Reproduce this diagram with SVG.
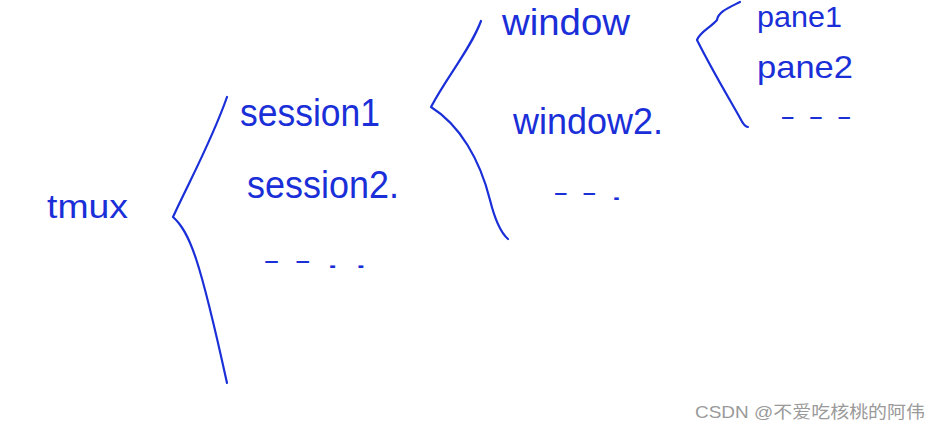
<svg xmlns="http://www.w3.org/2000/svg" width="940" height="432" viewBox="0 0 940 432">
<style>
.hw{font-family:"Liberation Sans","DejaVu Sans",sans-serif;fill:#1a2fd8;}
.br{fill:none;stroke:#1a2fd8;stroke-width:2.2;stroke-linecap:round;stroke-linejoin:round;}
.wm{font-family:"Liberation Sans","Noto Sans CJK SC",sans-serif;fill:#9a9a9a;font-size:17px;}
</style>
<rect width="940" height="432" fill="#ffffff"/>
<g id="connectors">
<path class="br" d="M227,97 C212,140 190,180 173,217 C190,232 200,260 227,383"/>
<path class="br" d="M481,21 C470,50 448,75 431,107 C460,125 480,160 490,200 C495,220 500,232 508,239"/>
<path class="br" d="M740,2 C728,8 718,12 717,20 C710,28 700,32 697,40 C712,70 730,100 740,118 C743,124 746,127 748,127"/>
</g>
<g id="tmux"><text class="hw" x="47" y="218" font-size="34" textLength="81" lengthAdjust="spacingAndGlyphs">tmux</text></g>
<g id="session1"><text class="hw" x="240" y="126" font-size="38" textLength="140" lengthAdjust="spacingAndGlyphs">session1</text></g>
<g id="session2"><text class="hw" x="247" y="198" font-size="38" textLength="152" lengthAdjust="spacingAndGlyphs">session2.</text></g>
<g id="session-more"><text class="hw" x="263" y="268" font-size="24" textLength="105" lengthAdjust="spacingAndGlyphs">- -  .  .</text></g>
<g id="window1"><text class="hw" x="502" y="35" font-size="36" textLength="128" lengthAdjust="spacingAndGlyphs">window</text></g>
<g id="window2"><text class="hw" x="513" y="134" font-size="36" textLength="150" lengthAdjust="spacingAndGlyphs">window2.</text></g>
<g id="window-more"><text class="hw" x="553" y="200" font-size="24" textLength="70" lengthAdjust="spacingAndGlyphs">- -  .</text></g>
<g id="pane1"><text class="hw" x="757" y="27" font-size="30" textLength="85" lengthAdjust="spacingAndGlyphs">pane1</text></g>
<g id="pane2"><text class="hw" x="757" y="78" font-size="32" textLength="96" lengthAdjust="spacingAndGlyphs">pane2</text></g>
<g id="pane-more"><text class="hw" x="780" y="124" font-size="24" textLength="72" lengthAdjust="spacingAndGlyphs">- -  -</text></g>
<text class="wm" x="695" y="418" textLength="230" lengthAdjust="spacingAndGlyphs">CSDN @不爱吃核桃的阿伟</text>
</svg>
